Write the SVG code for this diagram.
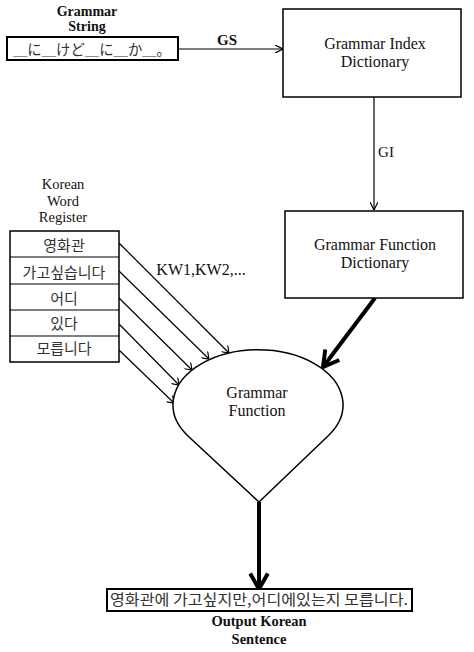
<svg xmlns="http://www.w3.org/2000/svg" width="474" height="652" viewBox="0 0 474 652">
<style>
.t{font-family:'Liberation Serif',Tinos,'Times New Roman','DejaVu Serif',serif;fill:#111;text-anchor:middle}
.b{font-weight:bold}
.k{font-family:'Noto Sans CJK KR','Noto Sans CJK JP',sans-serif;fill:#333;text-anchor:middle}
.box{fill:#fff;stroke:#000;stroke-width:1.5}
.thin{fill:none;stroke:#000;stroke-width:1.2}
.thick{fill:none;stroke:#000;stroke-width:4}
</style>
<defs>
<marker id="open" viewBox="0 0 10 10" refX="10" refY="5" markerWidth="8" markerHeight="8" markerUnits="userSpaceOnUse" orient="auto">
<path d="M0,0 L10,5 L0,10" fill="none" stroke="#000" stroke-width="1.5"/>
</marker>
<marker id="kw" viewBox="0 0 10 10" refX="10" refY="5" markerWidth="9" markerHeight="9" markerUnits="userSpaceOnUse" orient="auto">
<path d="M3,0 L10,5 L3,10" fill="none" stroke="#000" stroke-width="1.3"/>
</marker>
<marker id="bold" viewBox="0 0 10 10" refX="9" refY="5" markerWidth="22" markerHeight="22" markerUnits="userSpaceOnUse" orient="auto">
<path d="M2,1 L9,5 L2,9" fill="none" stroke="#000" stroke-width="1.8"/>
</marker>
</defs>

<g id="connectors">
<line class="thin" x1="178" y1="49" x2="283" y2="49" marker-end="url(#open)"/>
<text class="t b" x="227" y="45" font-size="15">GS</text>
<line class="thin" x1="374" y1="97" x2="374" y2="210" marker-end="url(#open)"/>
<text class="t" x="386" y="157" font-size="15">GI</text>
<line class="thick" x1="375" y1="298" x2="323" y2="367" marker-end="url(#bold)"/>
<line class="thin" x1="119" y1="243" x2="229" y2="353" marker-end="url(#kw)"/>
<line class="thin" x1="119" y1="271" x2="209" y2="359" marker-end="url(#kw)"/>
<line class="thin" x1="119" y1="298" x2="192" y2="370" marker-end="url(#kw)"/>
<line class="thin" x1="119" y1="324" x2="179" y2="385" marker-end="url(#kw)"/>
<line class="thin" x1="119" y1="350" x2="174" y2="403" marker-end="url(#kw)"/>
<text class="t" x="201" y="275" font-size="16">KW1,KW2,...</text>
<line class="thick" x1="259" y1="502" x2="259" y2="589" marker-end="url(#bold)"/>
</g>

<g id="grammar-string">
<text class="t b" x="87" y="16" font-size="14">Grammar</text>
<text class="t b" x="87" y="31" font-size="14">String</text>
<rect x="7" y="37" width="171" height="23" fill="#fff" stroke="#000" stroke-width="2"/>
<text x="92" y="55" font-size="15" font-family="Noto Sans CJK JP,sans-serif" fill="#333" text-anchor="middle" textLength="158" lengthAdjust="spacingAndGlyphs">＿に＿けど＿に＿か＿。</text>
</g>

<g id="grammar-index-dictionary">
<rect class="box" x="283" y="9" width="178" height="88"/>
<text class="t" x="375" y="49" font-size="16">Grammar Index</text>
<text class="t" x="375" y="67" font-size="16">Dictionary</text>
</g>

<g id="grammar-function-dictionary">
<rect class="box" x="285" y="211" width="178" height="87"/>
<text class="t" x="375" y="250" font-size="16">Grammar Function</text>
<text class="t" x="375" y="268" font-size="16">Dictionary</text>
</g>

<g id="korean-word-register">
<text class="t" x="63" y="189" font-size="14.5">Korean</text>
<text class="t" x="63" y="205.5" font-size="14.5">Word</text>
<text class="t" x="63" y="222" font-size="14.5">Register</text>
<rect class="box" x="10" y="231" width="109" height="131"/>
<line class="thin" x1="10" y1="257" x2="119" y2="257"/>
<line class="thin" x1="10" y1="284" x2="119" y2="284"/>
<line class="thin" x1="10" y1="310" x2="119" y2="310"/>
<line class="thin" x1="10" y1="336" x2="119" y2="336"/>
<text class="k" x="64" y="251" font-size="15">영화관</text>
<text class="k" x="64" y="278" font-size="15">가고싶습니다</text>
<text class="k" x="64" y="304" font-size="15">어디</text>
<text class="k" x="64" y="329" font-size="15">있다</text>
<text class="k" x="64" y="354" font-size="15">모릅니다</text>
</g>

<g id="grammar-function">
<path d="M259,502 L188,436 A85,55 0 1 1 328,436 Z" fill="#fff" stroke="#000" stroke-width="1.5"/>
<text class="t" x="257" y="398" font-size="16">Grammar</text>
<text class="t" x="257" y="416" font-size="16">Function</text>
</g>

<g id="output-korean-sentence">
<rect x="107" y="589" width="305" height="22" fill="#fff" stroke="#000" stroke-width="2"/>
<text class="k" x="259" y="605" font-size="15" textLength="298" lengthAdjust="spacingAndGlyphs">영화관에 가고싶지만,어디에있는지 모릅니다.</text>
<text class="t b" x="259" y="626" font-size="14.5">Output Korean</text>
<text class="t b" x="259" y="644" font-size="14.5">Sentence</text>
</g>
</svg>
